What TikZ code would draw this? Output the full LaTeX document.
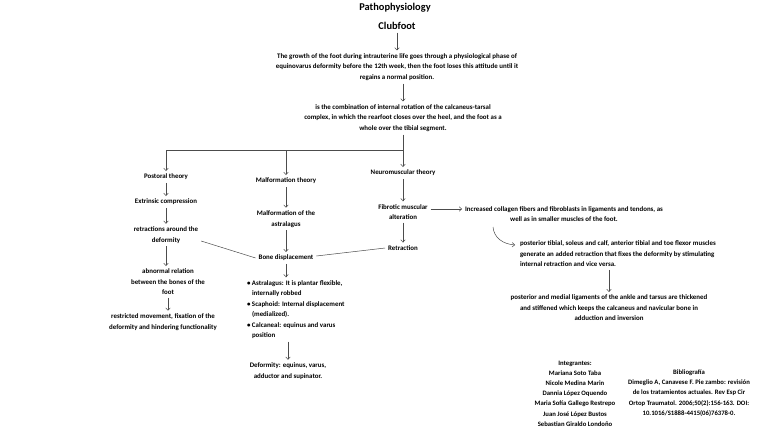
\documentclass[tikz,border=0pt]{standalone}
\usepackage{fontspec}
\setmainfont{Carlito}
\usetikzlibrary{arrows.meta}
\newcommand{\bul}{\makebox[5pt][l]{\textbullet}}
\begin{document}
\begin{tikzpicture}[x=1pt,y=-1pt]
\tikzset{
 txt/.style={inner sep=0pt, outer sep=3pt, align=center, text=black, font=\bfseries\fontsize{6.9}{10.5}\selectfont},
 sml/.style={txt, font=\bfseries\fontsize{6.7}{10.2}\selectfont},
 ttl/.style={inner sep=0pt, outer sep=3pt, text=black, font=\bfseries\fontsize{10.4}{12}\selectfont},
 arr/.style={draw=black!70, line width=0.5pt, -{Straight Barb[length=2.5pt,width=4.5pt]}},
 ln/.style={draw=black!70, line width=0.5pt},
}
\useasboundingbox[fill=white] (0,0) rectangle (768,431);

% titles and intro
\node[ttl] (t1) at (395,8) {Pathophysiology};
\node[ttl] (t2) at (397,26) {Clubfoot};
\node[txt] (p1) at (397,67) {The growth of the foot during intrauterine life goes through a physiological phase of\\equinovarus deformity before the 12th week, then the foot loses this attitude until it\\regains a normal position.};
\node[txt] (p2) at (403,118) {is the combination of internal rotation of the calcaneus-tarsal\\complex, in which the rearfoot closes over the heel, and the foot as a\\whole over the tibial segment.};

% three theories
\node[txt] (pt) at (166,177) {Postoral theory};
\node[txt] (mf) at (286,181) {Malformation theory};
\node[txt] (nm) at (403,173) {Neuromuscular theory};

\coordinate (JL) at (166,150);
\coordinate (JM) at (286,150);
\coordinate (JR) at (403,150);

\draw[arr] (t2.south -| p1.north) -- (p1.north);
\draw[arr] (p1.south -| p2.north) -- (p2.north);
\draw[ln] (JL) -- (JR);
\draw[arr] (p2.south) -- (nm.north);
\draw[arr] (JL) -- (pt.north);
\draw[arr] (JM) -- (mf.north);

% postural column
\node[txt] (ec) at (166,202) {Extrinsic compression};
\node[txt] (ra) at (166,235) {retractions around the\\deformity};
\node[txt] (ab) at (168,282) {abnormal relation\\between the bones of the\\foot};
\node[txt] (rm) at (163,322) {restricted movement, fixation of the\\deformity and hindering functionality};
\draw[arr] (pt.south) -- (pt.south |- ec.north);
\draw[arr] (ec.south) -- (ec.south |- ra.north);
\draw[arr] (ra.south) -- (ra.south |- ab.north);
\draw[arr] (ab.south) -- (ab.south |- rm.north);

% malformation column
\node[txt] (ma) at (286,219) {Malformation of the\\astralagus};
\node[txt] (bd) at (286,258) {Bone displacement};
\node[txt, anchor=west, align=left] (bl) at (244,309.5) {\bul Astralagus: It is plantar flexible,\\\hspace*{5pt}internally robbed\\\bul Scaphoid: Internal displacement\\\hspace*{5pt}(medialized).\\\bul Calcaneal: equinus and varus\\\hspace*{5pt}position};
\node[txt] (df) at (288,371) {Deformity: equinus, varus,\\adductor and supinator.};
\draw[arr] (mf.south) -- (mf.south |- ma.north);
\draw[arr] (ma.south) -- (ma.south |- bd.north);
\draw[arr] (bd.south) -- (bd.south |- bl.north);
\draw[arr] (df.north |- bl.south) -- (df.north);

% neuromuscular column
\node[txt] (fm) at (403,212) {Fibrotic muscular\\alteration};
\node[txt] (rt) at (403,248) {Retraction};
\draw[arr] (nm.south) -- (nm.south |- fm.north);
\draw[arr] (fm.south) -- (fm.south |- rt.north);

% links to bone displacement
\draw[ln] ([yshift=-6pt]ra.east) -- (bd.west);
\draw[ln] (rt.west) -- ([yshift=2pt]bd.east);

% right side
\node[txt] (ic) at (564,214) {Increased collagen fibers and fibroblasts in ligaments and tendons, as\\well as in smaller muscles of the foot.};
\draw[arr] ([yshift=3pt]fm.east) -- ([yshift=3pt]fm.east -| ic.west);
\node[txt, anchor=west, align=left] (pm) at (517,254) {posterior tibial, soleus and calf, anterior tibial and toe flexor muscles\\generate an added retraction that fixes the deformity by stimulating\\internal retraction and vice versa.};
\coordinate (ca1) at (493,227);
\coordinate (ca2) at (515,245);
\draw[arr] (ca1) .. controls (494,238) and (503,244) .. (ca2);
\node[txt] (pl) at (609,308) {posterior and medial ligaments of the ankle and tarsus are thickened\\and stiffened which keeps the calcaneus and navicular bone in\\adduction and inversion};
\draw[arr] (pl.north |- pm.south) -- (pl.north);

% credits
\node[sml] (ig) at (575,393.5) {Integrantes:\\Mariana Soto Taba\\Nicole Medina Marin\\Dannia López Oquendo\\Maria Sofía Gallego Restrepo\\Juan José López Bustos\\Sebastian Giraldo Londoño};
\node[sml] (bib) at (689,393) {Bibliografía\\Dimeglio A, Canavese F. Pie zambo: revisión\\de los tratamientos actuales. Rev Esp Cir\\Ortop Traumatol. 2006;50(2):156-163. DOI:\\10.1016/S1888-4415(06)76378-0.};
\end{tikzpicture}
\end{document}
